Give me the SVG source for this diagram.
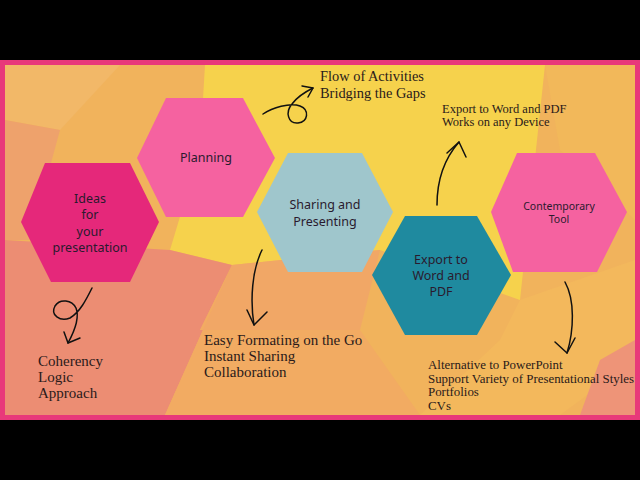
<svg xmlns="http://www.w3.org/2000/svg" width="640" height="480" viewBox="0 0 640 480">
<style>
.hex-t{font-family:"Noto Sans","Open Sans",sans-serif;font-size:12.5px;fill:#2a1a2e;text-anchor:middle}
.note{font-family:"Liberation Serif","Times New Roman",serif;fill:#2a1a1a}
.arr{fill:none;stroke:#111;stroke-width:1.5;stroke-linecap:round;stroke-linejoin:round}
</style>
<rect width="640" height="480" fill="#000"/>
<rect x="0" y="60" width="640" height="360" fill="#e8397a"/>
<g id="background">
<rect x="5" y="65" width="630" height="350" fill="#f1b35c"/>
<polygon points="5,65 120,65 60,130 5,120" fill="#f2b868"/>
<polygon points="5,120 60,130 30,240 5,240" fill="#eea26c"/>
<polygon points="205,65 545,65 520,300 380,250 232,265 170,250 200,150" fill="#f6d24c"/>
<polygon points="545,65 635,65 635,220 560,150" fill="#f2b85a"/>
<polygon points="5,240 170,250 232,265 165,415 5,415" fill="#ec8d73"/>
<polygon points="232,265 380,250 360,330 200,330" fill="#f1a766"/>
<polygon points="165,415 232,265 200,330 360,330 420,415" fill="#f2ab62"/>
<polygon points="520,300 635,260 635,360 560,415 420,415 500,340" fill="#f3b85c"/>
<polygon points="600,360 635,340 635,415 580,415" fill="#ee9478"/>
</g>
<g id="connectors">
<path class="arr" d="M263,114 C272,108 290,102 300,106 C310,110 308,122 298,123 C288,124 285,112 292,104 C297,97 305,92 313,88"/>
<path class="arr" d="M302,86 L313,88 L308,97"/>
<path class="arr" d="M437,205 C437,180 445,158 459,142"/>
<path class="arr" d="M447,153 L459,142 L466,157"/>
<path class="arr" d="M92,288 C86,300 80,312 70,318 C60,322 50,315 55,306 C60,298 72,300 76,308 C80,318 74,332 68,343"/>
<path class="arr" d="M64,332 L68,343 L80,338"/>
<path class="arr" d="M262,250 C252,270 250,300 254,325"/>
<path class="arr" d="M247,310 L254,325 L267,312"/>
<path class="arr" d="M565,282 C575,300 574,330 567,353"/>
<path class="arr" d="M555,342 L567,353 L575,338"/>
</g>
<g id="ideas">
<polygon points="21,222 45,163 130,163 159,222 130,282 51,282" fill="#e5287a"/>
<text class="hex-t" x="90" y="203">Ideas</text>
<text class="hex-t" x="90" y="219">for</text>
<text class="hex-t" x="90" y="236">your</text>
<text class="hex-t" x="90" y="252">presentation</text>
</g>
<g id="planning">
<polygon points="137,158 166,98 243,98 275,158 243,217 166,217" fill="#f562a0"/>
<text class="hex-t" x="206" y="162">Planning</text>
</g>
<g id="sharing">
<polygon points="257,212 288,153 362,153 393,212 362,272 288,272" fill="#9fc6cc"/>
<text class="hex-t" x="325" y="209">Sharing and</text>
<text class="hex-t" x="325" y="226">Presenting</text>
</g>
<g id="export">
<polygon points="372,275 405,216 477,216 511,275 477,335 405,335" fill="#1f8a9f"/>
<text class="hex-t" x="441" y="264">Export to</text>
<text class="hex-t" x="441" y="280">Word and</text>
<text class="hex-t" x="441" y="296">PDF</text>
</g>
<g id="contemporary">
<polygon points="491,212 517,153 595,153 627,212 597,272 513,272" fill="#f562a0"/>
<text class="hex-t" x="559" y="210" style="font-size:10.5px">Contemporary</text>
<text class="hex-t" x="559" y="223" style="font-size:10.5px">Tool</text>
</g>
<g id="notes">
<text class="note" font-size="14.4"><tspan x="320" y="81">Flow of Activities</tspan><tspan x="320" y="98">Bridging the Gaps</tspan></text>
<text class="note" font-size="12.5"><tspan x="442" y="113">Export to Word and PDF</tspan><tspan x="442" y="126">Works on any Device</tspan></text>
<text class="note" font-size="15"><tspan x="204" y="345">Easy Formating on the Go</tspan><tspan x="204" y="361">Instant Sharing</tspan><tspan x="204" y="377">Collaboration</tspan></text>
<text class="note" font-size="15"><tspan x="38" y="366">Coherency</tspan><tspan x="38" y="382">Logic</tspan><tspan x="38" y="398">Approach</tspan></text>
<text class="note" font-size="12.9"><tspan x="428" y="369">Alternative to PowerPoint</tspan><tspan x="428" y="383">Support Variety of Presentational Styles</tspan><tspan x="428" y="396">Portfolios</tspan><tspan x="428" y="410">CVs</tspan></text>
</g>
</svg>
